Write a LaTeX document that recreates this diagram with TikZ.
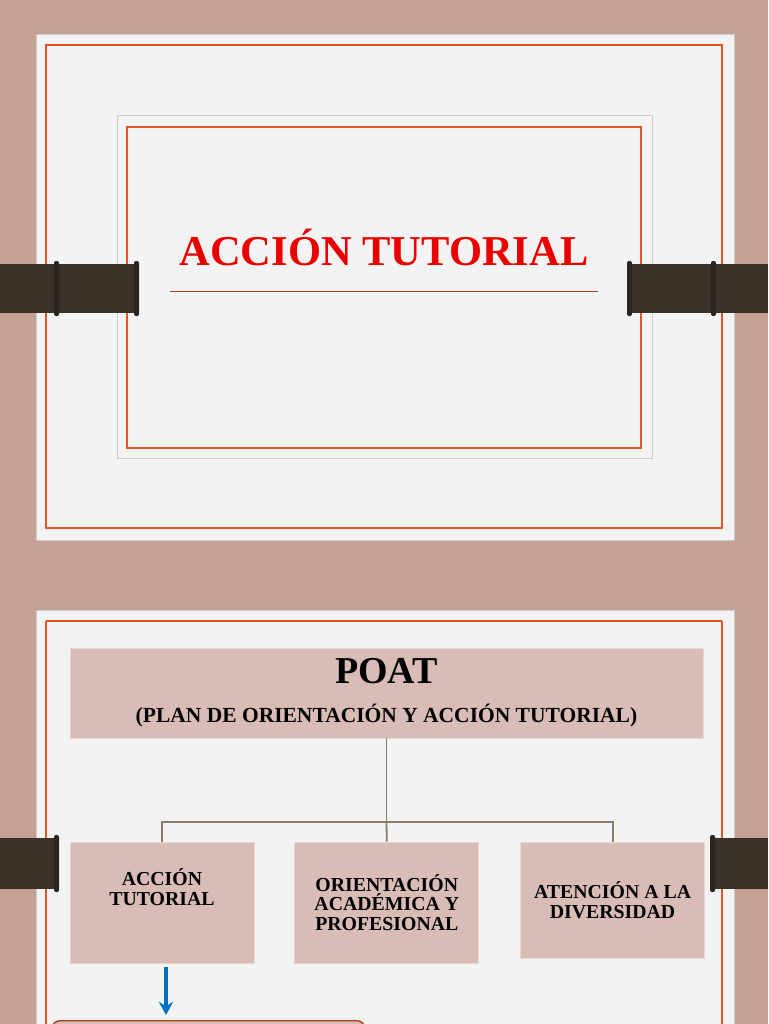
\documentclass[tikz,border=0pt]{standalone}
\usepackage{fontspec}
\setmainfont{Liberation Serif}
\usetikzlibrary{positioning}
\usetikzlibrary{arrows.meta}
\definecolor{fondo}{RGB}{197,161,149}
\definecolor{papel}{RGB}{243,243,243}
\definecolor{naranja}{RGB}{226,84,34}
\definecolor{rojo}{RGB}{235,0,0}
\definecolor{rosa}{RGB}{217,188,181}
\definecolor{cuero}{RGB}{58,49,41}
\definecolor{rama}{RGB}{135,125,105}
\definecolor{azul}{RGB}{0,112,192}

\begin{document}
\begin{tikzpicture}[x=1pt,y=-1pt,thick]
\tikzstyle{hoja}=[fill=papel,draw=gray!40,line width=1pt]
\tikzstyle{marco}=[draw=naranja,line width=1.8pt]
\tikzstyle{correa}=[fill=cuero]
\tikzstyle{hebilla}=[fill=cuero!75!black,rounded corners=2pt]
\tikzstyle{caja}=[rectangle,fill=rosa,draw=rosa!60!white,line width=0.8pt,minimum width=184pt,minimum height=121pt,align=center,font=\fontsize{19.8}{19.8}\selectfont\bfseries]
\tikzstyle{rama}=[draw=rama,line width=1.8pt]
\tikzstyle{flecha}=[draw=azul,line width=3.2pt,-{Stealth[length=13pt,width=14pt]}]
\useasboundingbox (0,0) rectangle (768,1024);
\fill[fondo] (0,0) rectangle (768,1024);
% first slide
\filldraw[hoja] (36,35) rectangle (734,540);
\draw[marco] (46,45) rectangle (722,528);
\filldraw[hoja] (117,116) rectangle (652,458);
\draw[marco] (127,127) rectangle (641,448);
\node[text=rojo,font=\fontsize{42.5}{46}\selectfont\bfseries] (titulo) at (384,247) {ACCIÓN TUTORIAL};
\draw[draw=naranja!75!black,line width=0.8pt] (170,291) -- (598,291);
\fill[correa] (0,264) rectangle (138,313);
\fill[hebilla] (54,261) rectangle (59,316);
\fill[hebilla] (134,261) rectangle (139,316);
\fill[correa] (628,264) rectangle (768,313);
\fill[hebilla] (627,261) rectangle (632,316);
\fill[hebilla] (711,261) rectangle (716,316);
% second slide
\filldraw[hoja] (36,610) rectangle (734,1040);
\draw[marco] (46,621) -- (722,621);
\draw[marco] (46,621) -- (46,1030);
\draw[marco] (722,621) -- (722,1030);
\node[rectangle,fill=rosa,draw=rosa!60!white,line width=0.8pt,minimum width=633pt,minimum height=90pt,align=center] (poat) at (386.5,693)
	{{\fontsize{38}{40}\selectfont\bfseries POAT}\\[19pt]{\fontsize{21.5}{22}\selectfont\bfseries (PLAN DE ORIENTACIÓN Y ACCIÓN TUTORIAL)}};
\node[caja] (accion) at (162,902.5) {ACCIÓN\\TUTORIAL\\[12pt] \mbox{}};
\node[caja] (orient) [right = 40pt of accion] {ORIENTACIÓN\\ACADÉMICA Y\\PROFESIONAL};
\node[caja,minimum height=116pt,yshift=2.5pt] (diversidad) [right = 41pt of orient] {ATENCIÓN A LA\\DIVERSIDAD};
\coordinate (bus) at (386.5,822);
\draw[rama] (poat.south) -- (bus);
\draw[rama] (accion.north) |- (bus) -| (diversidad.north);
\draw[rama] (bus) -- (orient.north);
\node[rectangle,rounded corners=8pt,fill=rosa,draw=naranja!75!black,line width=1.4pt,minimum width=313pt,minimum height=60pt,anchor=north] (meta) at (208.5,1020) {};
\draw[flecha,shorten <=4pt,shorten >=5pt] ([xshift=4pt]accion.south) -- ([xshift=4pt]accion.south |- meta.north);
\fill[correa] (0,838) rectangle (58,889);
\fill[hebilla] (54,835) rectangle (59,892);
\fill[correa] (711,838) rectangle (768,889);
\fill[hebilla] (710,835) rectangle (715,892);
\end{tikzpicture}
\end{document}
